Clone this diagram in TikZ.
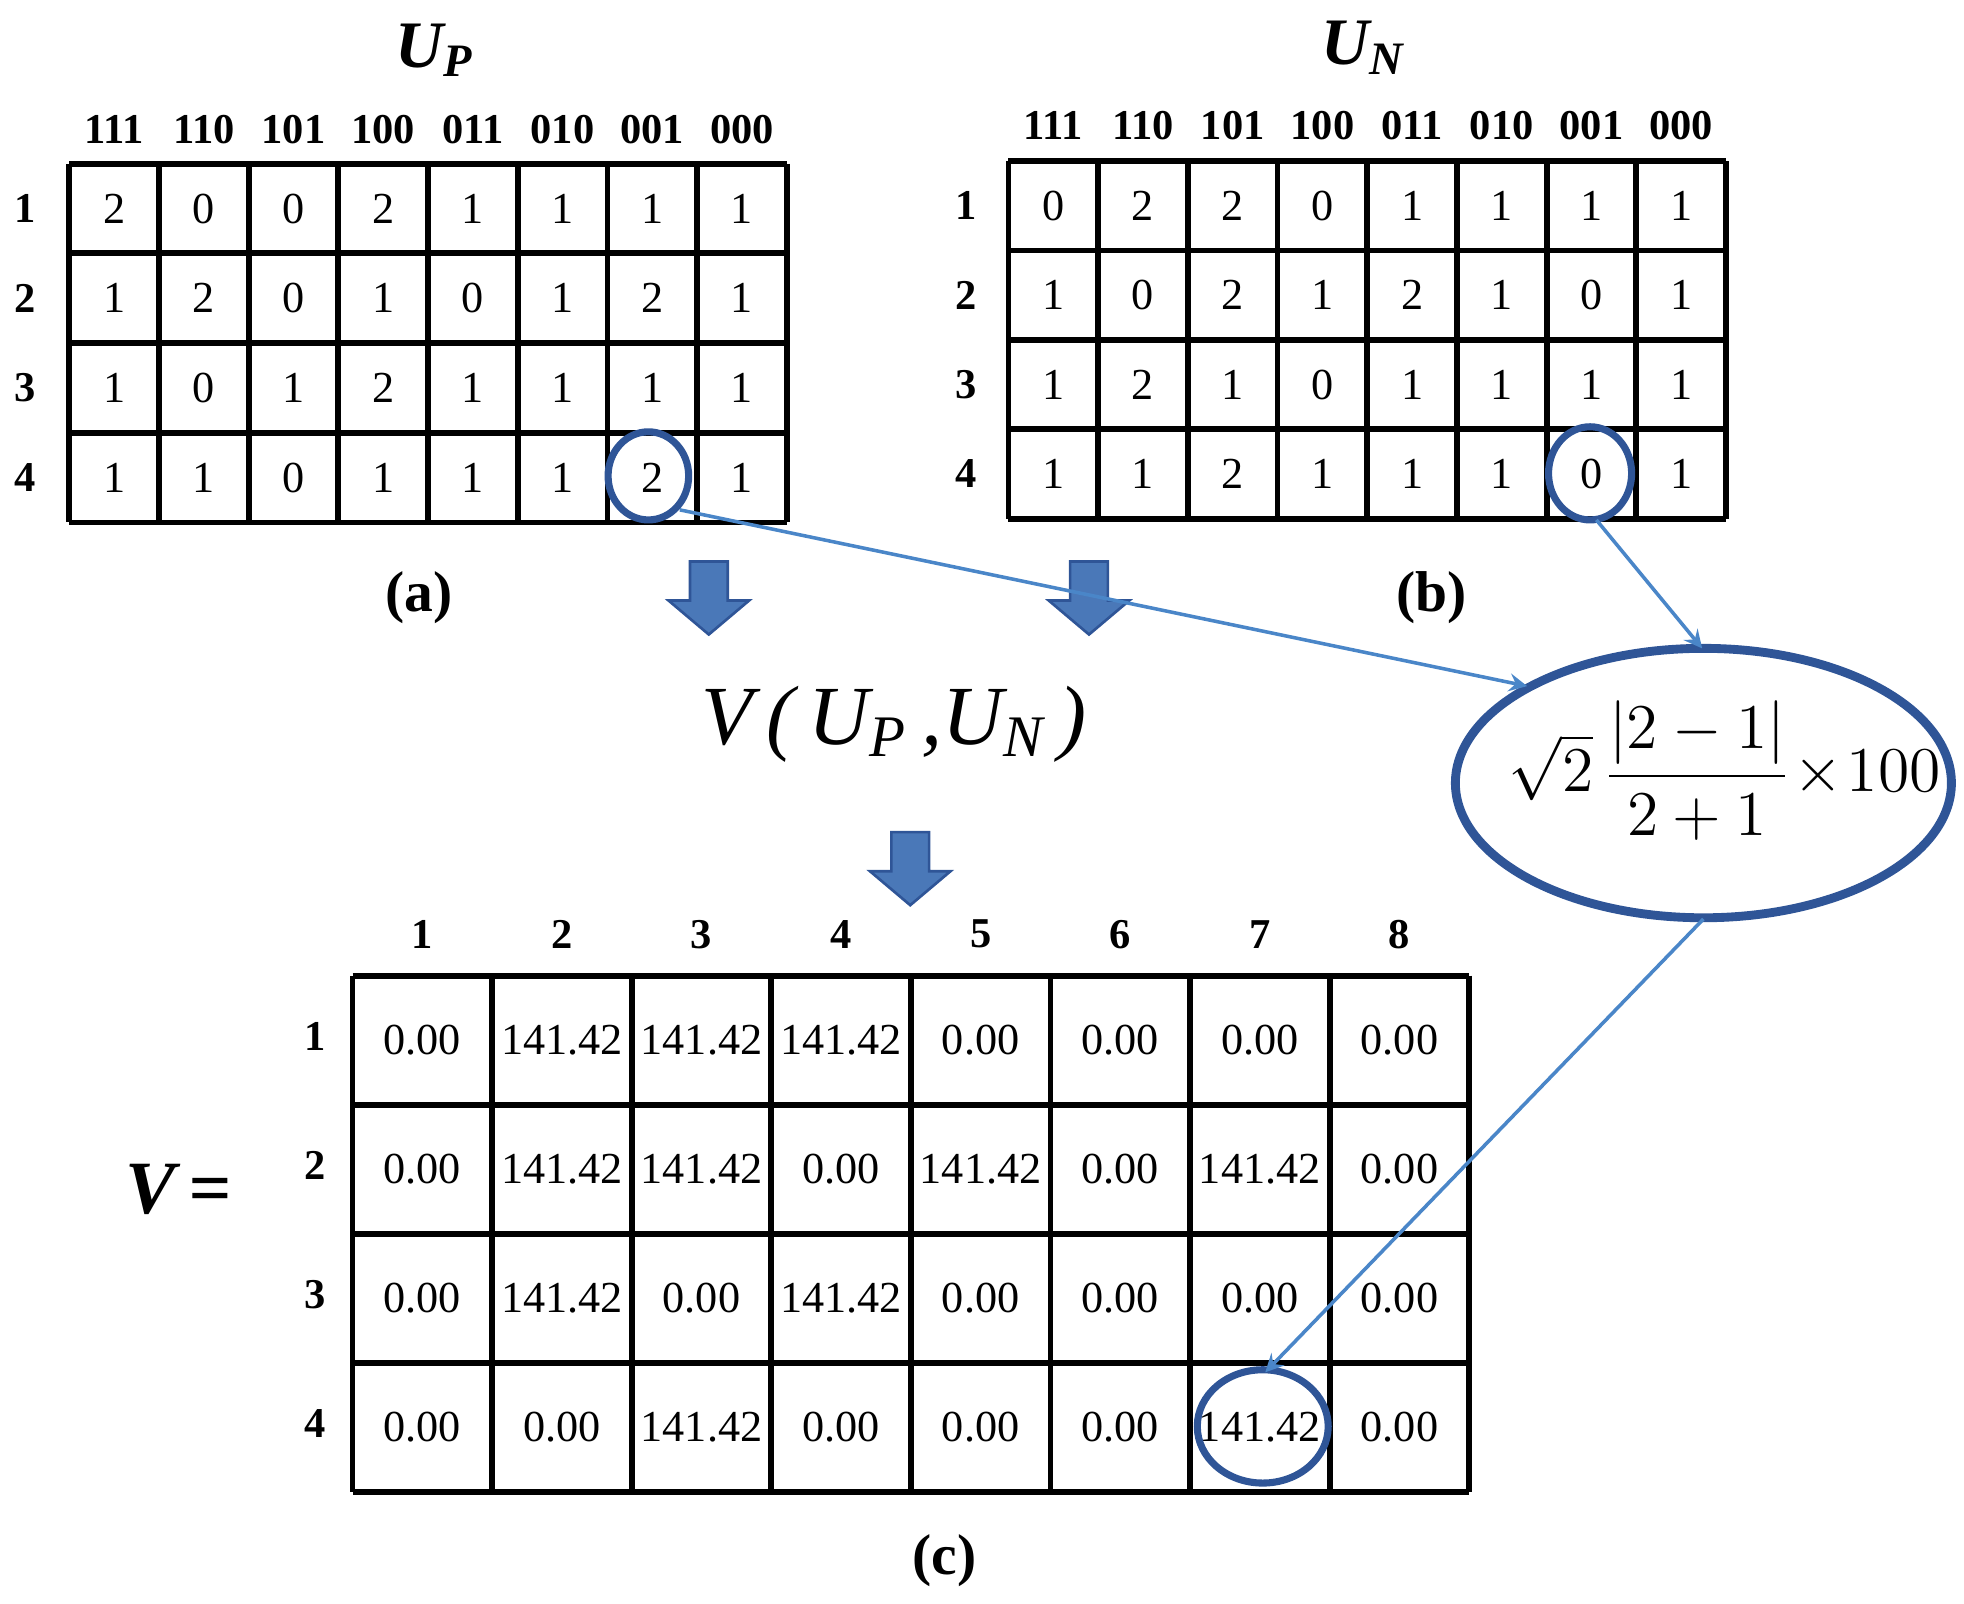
\documentclass[tikz,border=0pt]{standalone}
\usepackage{fontspec}
\setmainfont{Liberation Serif}
\definecolor{darr}{HTML}{4A78B8}
\definecolor{dcirc}{HTML}{2F5597}
\definecolor{lline}{HTML}{4A86C8}
\begin{document}
\begin{tikzpicture}[x=0.01cm,y=-0.01cm,
 cell/.style={font=\fontsize{10}{12}\selectfont},
 hd/.style={font=\bfseries\fontsize{9.6}{12}\selectfont},
 lab/.style={font=\bfseries\fontsize{13}{16}\selectfont},
 ttl/.style={font=\bfseries\itshape\fontsize{15}{18}\selectfont},
 bigarr/.style={draw=dcirc, fill=darr, line width=0.6pt},
 circ/.style={draw=dcirc, line width=1.6pt},
 conn/.style={draw=lline, line width=0.8pt, -stealth}]
\useasboundingbox (0,0) rectangle (1560,1274);
\newcommand{\blockarrow}[2]{\draw[bigarr] ({#1-15},{#2-29}) -- ({#1+15},{#2-29}) -- ({#1+15},{#2+2}) -- ({#1+32},{#2+2}) -- (#1,{#2+29}) -- ({#1-32},{#2+2}) -- ({#1-15},{#2+2}) -- cycle;}
% table a
\node[ttl] (tUP) at (345,40) {U\textsubscript{\textit{P}}};
\foreach \i in {0,...,8} \draw[line width=1.3pt] ({55+71.25*\i},130) -- ({55+71.25*\i},415);
\foreach \j in {0,...,4} \draw[line width=1.3pt] (55,{130+71.25*\j}) -- (625,{130+71.25*\j});
\foreach \h [count=\i] in {111,110,101,100,011,010,001,000}
  \node[hd] (ha\i) at ({55+71.25*(\i-0.5)},103) {\h};
\foreach \row [count=\r] in {{2,0,0,2,1,1,1,1},{1,2,0,1,0,1,2,1},{1,0,1,2,1,1,1,1},{1,1,0,1,1,1,2,1}}{
  \node[hd] (ra\r) at (20,{130+71.25*(\r-0.5)}) {\r};
  \foreach \v [count=\c] in \row
    \node[cell] (a\r\c) at ({55+71.25*(\c-0.5)},{130+71.25*(\r-0.5)}) {\v};
}
\node[lab] (la) at (333,475) {(a)};
% table b
\node[ttl] (tUN) at (1083,38) {U\textsubscript{\textit{N}}};
\foreach \i in {0,...,8} \draw[line width=1.3pt] ({801+71.25*\i},128) -- ({801+71.25*\i},412);
\foreach \j in {0,...,4} \draw[line width=1.3pt] (801,{128+71*\j}) -- (1371,{128+71*\j});
\foreach \h [count=\i] in {111,110,101,100,011,010,001,000}
  \node[hd] (hb\i) at ({801+71.25*(\i-0.5)},100) {\h};
\foreach \row [count=\r] in {{0,2,2,0,1,1,1,1},{1,0,2,1,2,1,0,1},{1,2,1,0,1,1,1,1},{1,1,2,1,1,1,0,1}}{
  \node[hd] (rb\r) at (767,{128+71*(\r-0.5)}) {\r};
  \foreach \v [count=\c] in \row
    \node[cell] (b\r\c) at ({801+71.25*(\c-0.5)},{128+71*(\r-0.5)}) {\v};
}
\node[lab] (lb) at (1137,475) {(b)};
% arrows
\blockarrow{563}{475}
\blockarrow{865}{475}
\blockarrow{723}{690}
\node[font=\itshape\fontsize{19}{22}\selectfont] (VU) at (710,575) {V\,(\,U\textsubscript{\itshape P}\,,U\textsubscript{\itshape N}\,)};
% ellipse
\draw[circ, line width=2pt] (1353,622) ellipse [x radius=197, y radius=107];
\node[font=\fontsize{14}{17}\selectfont] (F) at (1370,612) {$\sqrt{2}\,\displaystyle\frac{|2-1|}{2+1}\!\times\!100$};
\coordinate (Etop) at (1352,515);
\coordinate (Eleft) at (1213,545);
\coordinate (Ebot) at (1353,730);
% table c
\foreach \i in {0,...,8} \draw[line width=1.3pt] ({280+110.875*\i},775) -- ({280+110.875*\i},1185);
\foreach \j in {0,...,4} \draw[line width=1.3pt] (280,{775+102.5*\j}) -- (1167,{775+102.5*\j});
\foreach \i in {1,...,8}
  \node[hd] (hc\i) at ({280+110.875*(\i-0.5)},742) {\i};
\foreach \row [count=\r] in {{0.00,141.42,141.42,141.42,0.00,0.00,0.00,0.00},{0.00,141.42,141.42,0.00,141.42,0.00,141.42,0.00},{0.00,141.42,0.00,141.42,0.00,0.00,0.00,0.00},{0.00,0.00,141.42,0.00,0.00,0.00,141.42,0.00}}{
  \node[hd] (rc\r) at (250,{775+102.5*(\r-0.5)-3}) {\r};
  \foreach \v [count=\c] in \row
    \node[cell] (c\r\c) at ({280+110.875*(\c-0.5)},{775+102.5*(\r-0.5)}) {\v};
}
\node[font=\bfseries\itshape\fontsize{17}{20}\selectfont] (Veq) at (142,945) {V\,=};
\node[lab] (lc) at (750,1240) {(c)};
% circles
\draw[circ] (515,378) ellipse [x radius=32, y radius=35];
\draw[circ] (1263,376) ellipse [x radius=33, y radius=37];
\draw[circ] (1003,1133) ellipse [x radius=52, y radius=45];
\coordinate (ca) at (540,405);
\coordinate (cb) at (1268,413);
\coordinate (cc) at (1005,1090);
\draw[conn] (ca) -- (Eleft);
\draw[conn] (cb) -- (Etop);
\draw[conn] (Ebot) -- (cc);
\end{tikzpicture}
\end{document}
